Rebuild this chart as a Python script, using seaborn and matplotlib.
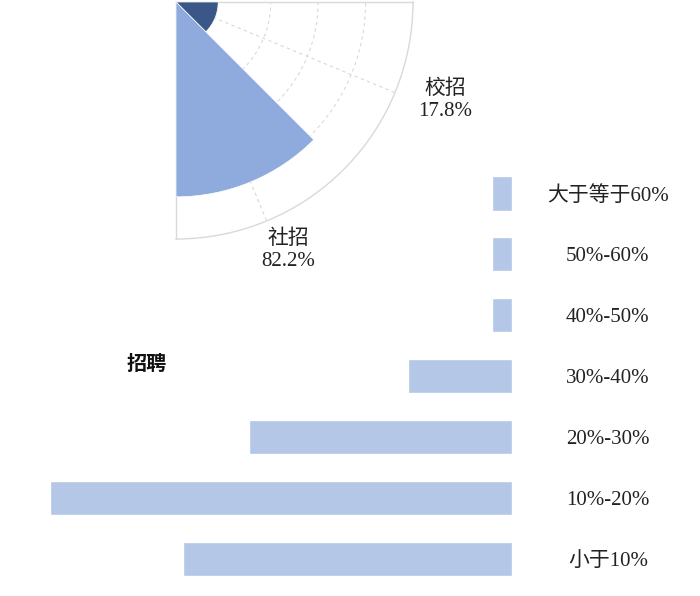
import matplotlib
matplotlib.use('Agg')
import matplotlib.pyplot as plt
import seaborn as sns
import pandas as pd
import numpy as np

# 招聘方式占比（玫瑰图）
recruit_types = ['校招', '社招']
recruit_share = [17.8, 82.2]
recruit_colors = ['#3B5788', '#8FAADC']

# 各区间占比（条形图）
ranges = ['大于等于60%', '50%-60%', '40%-50%', '30%-40%', '20%-30%', '10%-20%', '小于10%']
range_share = [1.6, 1.6, 1.6, 8.5, 21.6, 37.9, 27.0]

sns.set_theme(style='white')
plt.rcParams['font.family'] = ['Liberation Serif', 'Noto Sans CJK SC', 'DejaVu Sans']

W, H = 700, 596
fig = plt.figure(figsize=(W / 100, H / 100), dpi=100)


def box(left, top, w, h):
    return [left / W, (H - top - h) / H, w / W, h / H]


# horizontal bars
bax = fig.add_axes(box(0, 163, 512, 426.5))
bax.patch.set_alpha(0)
df = pd.DataFrame({'range': ranges, 'share': range_share})
sns.barplot(data=df, x='share', y='range', orient='h', color='#B4C7E7',
            saturation=1, width=0.56, ax=bax)
bax.set_xlim(42, 0)
bax.yaxis.tick_right()
bax.tick_params(axis='y', length=0, pad=69, labelsize=15, labelcolor='#222222')
for lab in bax.get_yticklabels():
    lab.set_ha('center')
bax.set_xticks([])
bax.set_xlabel('')
bax.set_ylabel('')
sns.despine(ax=bax, left=True, bottom=True, right=True, top=True)

# polar quarter
pax = fig.add_axes(box(176, 2, 237, 237), projection='polar')
pax.patch.set_alpha(0)
pax.set_thetamin(-90)
pax.set_thetamax(0)
step = 90 / len(recruit_types)
theta_deg = [-(i + 0.5) * step for i in range(len(recruit_types))]
theta = np.deg2rad(theta_deg)
pax.bar(theta, recruit_share, width=np.deg2rad(step), color=recruit_colors,
        edgecolor='white', linewidth=0.5, zorder=3)
pax.set_ylim(0, 100)
pax.set_rgrids([40, 60, 80], labels=[])
pax.set_thetagrids(theta_deg, labels=[])
pax.grid(True, color='#D9D9D9', linestyle=(0, (3, 3)), linewidth=0.8)
for s in pax.spines.values():
    s.set_color('#D9D9D9')
    s.set_linewidth(1)

# label placement outside the arc
label_r = [121, 115]
label_shift = [2.5, 1.8]
for t, name, v, r, d in zip(theta, recruit_types, recruit_share, label_r, label_shift):
    pax.text(t + np.deg2rad(d), r, f'{name}\n{v}%', ha='center', va='center',
             fontsize=15, linespacing=1.2, color='#222222')

fig.text(147 / W, 1 - 365 / H, '招聘', fontsize=14.5, fontweight='bold',
         ha='center', va='center', color='#111111')

fig.savefig('out.png', dpi=100)
